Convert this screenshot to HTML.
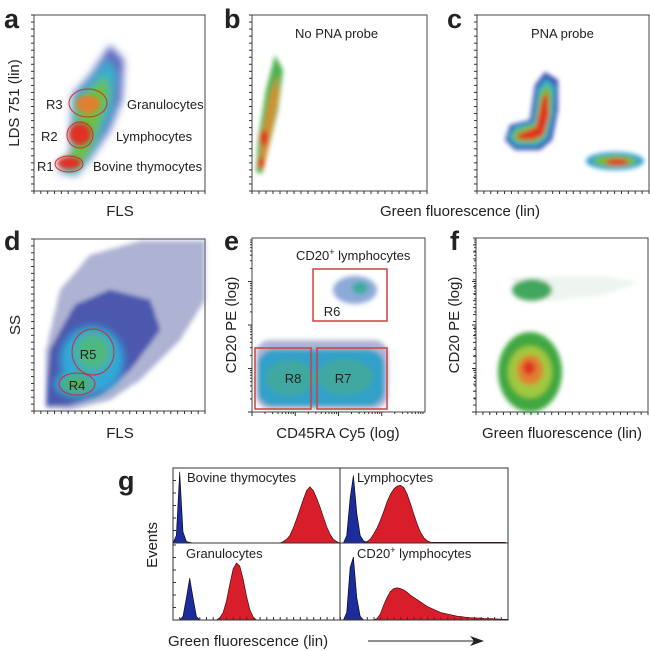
<!DOCTYPE html>
<html><head><meta charset="utf-8"><style>
body{margin:0;background:#fff}
svg{display:block}
text{font-family:"Liberation Sans",sans-serif;fill:#222}
</style></head><body>
<svg id="fig" width="650" height="651" viewBox="0 0 650 651">
<defs>
<filter id="b2" x="-50%" y="-50%" width="200%" height="200%"><feGaussianBlur stdDeviation="2.5"/></filter>
<filter id="b4" x="-50%" y="-50%" width="200%" height="200%"><feGaussianBlur stdDeviation="4"/></filter>
<pattern id="spk" width="4" height="4" patternUnits="userSpaceOnUse"><rect width="4" height="4" fill="#3848a0"/><rect x="1" y="2" width="1" height="1" fill="#fff"/><rect x="3" y="0" width="1" height="1" fill="#c0c4e8"/><rect x="0" y="0" width="1" height="1" fill="#fff"/></pattern>
<pattern id="spk2" width="3" height="3" patternUnits="userSpaceOnUse"><rect width="3" height="3" fill="#fff"/><rect x="1" y="1" width="1" height="1" fill="#50b060"/><rect x="0" y="2" width="1" height="1" fill="#30a050"/></pattern>
</defs>

<!-- Panel a -->
<g>
<text x="4" y="28" font-size="27" font-weight="bold">a</text>
<rect x="34" y="15" width="171" height="176" fill="none" stroke="#444"/>
<g filter="url(#b4)">
<path d="M58,172 L70,150 L72,95 L90,75 L110,45 L124,60 L122,100 L110,130 L90,160 L76,176 Z" fill="#3848b0" opacity="0.8"/>
<path d="M62,170 L74,145 L74,100 L90,82 L108,60 L116,75 L112,110 L98,140 L84,165 L72,174 Z" fill="#33b0d0"/>
<path d="M64,168 L77,140 L76,102 L92,88 L106,75 L110,95 L100,125 L88,155 L76,170 Z" fill="#6cc040"/>
</g>
<g filter="url(#b2)">
<ellipse cx="69" cy="163" rx="12" ry="6" fill="#e03020"/>
<ellipse cx="80" cy="134" rx="11" ry="11" fill="#e03020"/>
<ellipse cx="88" cy="104" rx="12" ry="9" fill="#e08030"/>
</g>
<ellipse cx="69" cy="164" rx="14" ry="8" fill="none" stroke="#c83030"/>
<ellipse cx="80" cy="135" rx="13" ry="13" fill="none" stroke="#c83030"/>
<ellipse cx="88" cy="103" rx="19" ry="14" fill="none" stroke="#c83030"/>
<text x="46" y="109" font-size="13">R3</text>
<text x="127" y="109" font-size="13">Granulocytes</text>
<text x="41" y="141" font-size="13">R2</text>
<text x="116" y="141" font-size="13">Lymphocytes</text>
<text x="37" y="171" font-size="13">R1</text>
<text x="93" y="171" font-size="13">Bovine thymocytes</text>
<text x="120" y="216" font-size="15" text-anchor="middle">FLS</text>
<text transform="translate(19,103) rotate(-90)" font-size="15" text-anchor="middle">LDS 751 (lin)</text>
</g>

<!-- Panel b -->
<g>
<text x="224" y="28" font-size="27" font-weight="bold">b</text>
<rect x="252" y="15" width="175" height="176" fill="none" stroke="#444"/>
<g filter="url(#b2)">
<path d="M256,172 L258,140 L266,90 L275,55 L283,70 L278,110 L268,150 L262,174 Z" fill="#50b050"/>
<path d="M259,168 L262,135 L270,95 L277,75 L279,95 L272,130 L264,168 Z" fill="#d09030"/>
<ellipse cx="264" cy="138" rx="4" ry="8" fill="#e03020"/>
<ellipse cx="261" cy="163" rx="3" ry="6" fill="#e03020"/>
</g>
<text x="295" y="38" font-size="13">No PNA probe</text>
<text x="460" y="216" font-size="15" text-anchor="middle">Green fluorescence (lin)</text>
</g>

<!-- Panel c -->
<g>
<text x="447" y="28" font-size="27" font-weight="bold">c</text>
<rect x="477" y="15" width="172" height="176" fill="none" stroke="#444"/>
<g filter="url(#b2)">
<path d="M505,140 L510,125 L530,120 L535,85 L545,72 L558,80 L558,110 L552,140 L540,150 L515,150 Z" fill="#3848b0"/>
<path d="M508,138 L514,127 L533,122 L538,88 L546,78 L555,86 L554,112 L548,138 L538,146 L516,146 Z" fill="#33b0d0"/>
<path d="M511,136 L517,129 L535,124 L540,92 L547,84 L552,92 L551,114 L545,136 L536,143 L518,143 Z" fill="#6cc040"/>
<path d="M516,135 L536,127 L542,98 L548,92 L549,116 L543,136 L532,140 L520,140 Z" fill="#e03020"/>
<ellipse cx="615" cy="161" rx="29" ry="9" fill="#33a0d0"/>
<ellipse cx="615" cy="161" rx="22" ry="6" fill="#6cc040"/>
<ellipse cx="617" cy="162" rx="12" ry="3.5" fill="#e03020"/>
</g>
<text x="531" y="38" font-size="13">PNA probe</text>
</g>

<!-- Panel d -->
<g>
<text x="4" y="250" font-size="27" font-weight="bold">d</text>
<rect x="34" y="239" width="171" height="172" fill="none" stroke="#444"/>
<g filter="url(#b2)">
<path d="M46,408 L46,350 L60,290 L90,255 L140,241 L205,241 L205,300 L180,340 L140,380 L110,400 L70,410 Z" fill="url(#spk)" opacity="0.6"/>
<path d="M46,406 L50,350 L75,305 L110,290 L150,300 L160,330 L130,370 L100,395 L70,405 Z" fill="#2838a0" opacity="0.7"/>
</g>
<g filter="url(#b4)">
<ellipse cx="92" cy="360" rx="32" ry="34" fill="#30a8d8"/>
<ellipse cx="78" cy="384" rx="24" ry="14" fill="#30a8d8"/>
<ellipse cx="93" cy="352" rx="18" ry="19" fill="#50b880"/>
<ellipse cx="77" cy="384" rx="16" ry="9" fill="#50b060"/>
</g>
<ellipse cx="93" cy="352" rx="21" ry="23" fill="none" stroke="#c83030"/>
<ellipse cx="77" cy="384" rx="18" ry="11" fill="none" stroke="#c83030"/>
<text x="88" y="359" font-size="13" text-anchor="middle">R5</text>
<text x="77" y="390" font-size="13" text-anchor="middle">R4</text>
<text x="120" y="438" font-size="15" text-anchor="middle">FLS</text>
<text transform="translate(20,325) rotate(-90)" font-size="15" text-anchor="middle">SS</text>
</g>

<!-- Panel e -->
<g>
<text x="224" y="250" font-size="27" font-weight="bold">e</text>
<rect x="252" y="238" width="173" height="174" fill="none" stroke="#444"/>
<g filter="url(#b2)">
<rect x="256" y="340" width="132" height="69" rx="14" fill="url(#spk)" opacity="0.6"/>
<rect x="258" y="350" width="126" height="56" rx="16" fill="#30a0c8"/>
<ellipse cx="290" cy="378" rx="24" ry="18" fill="#40a8a0"/>
<ellipse cx="345" cy="377" rx="28" ry="18" fill="#40a8a0"/>
<ellipse cx="355" cy="290" rx="22" ry="14" fill="#4070c0" opacity="0.6"/>
<ellipse cx="360" cy="288" rx="8" ry="6" fill="#40a8a0"/>
</g>
<rect x="313" y="269" width="74" height="52" fill="none" stroke="#d04040" stroke-width="1.5"/>
<rect x="255" y="348" width="56" height="61" fill="none" stroke="#d04040" stroke-width="1.5"/>
<rect x="317" y="348" width="70" height="61" fill="none" stroke="#d04040" stroke-width="1.5"/>
<text x="332" y="316" font-size="13" text-anchor="middle">R6</text>
<text x="293" y="383" font-size="13" text-anchor="middle">R8</text>
<text x="343" y="383" font-size="13" text-anchor="middle">R7</text>
<text x="296" y="260" font-size="13">CD20<tspan dy="-5" font-size="9">+</tspan><tspan dy="5"> lymphocytes</tspan></text>
<text x="338" y="438" font-size="15" text-anchor="middle">CD45RA Cy5 (log)</text>
<text transform="translate(236,325) rotate(-90)" font-size="15" text-anchor="middle">CD20 PE (log)</text>
</g>

<!-- Panel f -->
<g>
<text x="450" y="250" font-size="27" font-weight="bold">f</text>
<rect x="476" y="238" width="172" height="174" fill="none" stroke="#444"/>
<g filter="url(#b2)">
<path d="M510,278 L600,276 L640,282 L600,296 L530,302 Z" fill="url(#spk2)" opacity="0.7"/>
<ellipse cx="532" cy="290" rx="20" ry="11" fill="#30a050" opacity="0.9"/>
<ellipse cx="530" cy="372" rx="32" ry="40" fill="#40a840"/>
<ellipse cx="530" cy="372" rx="22" ry="26" fill="#a0c840"/>
<ellipse cx="530" cy="370" rx="13" ry="15" fill="#e08030"/>
<ellipse cx="529" cy="368" rx="6" ry="7" fill="#e03020"/>
</g>
<text x="562" y="438" font-size="15" text-anchor="middle">Green fluorescence (lin)</text>
<text transform="translate(459,325) rotate(-90)" font-size="15" text-anchor="middle">CD20 PE (log)</text>
</g>

<!-- Panel g -->
<g>
<text x="118" y="490" font-size="27" font-weight="bold">g</text>
<g id="hists"></g>
<rect x="173" y="468" width="335" height="152" fill="none" stroke="#333"/>
<line x1="173" y1="543" x2="508" y2="543" stroke="#333"/>
<line x1="340" y1="468" x2="340" y2="620" stroke="#333"/>
<text x="187" y="482" font-size="13">Bovine thymocytes</text>
<text x="357" y="482" font-size="13">Lymphocytes</text>
<text x="186" y="558" font-size="13">Granulocytes</text>
<text x="357" y="558" font-size="13">CD20<tspan dy="-5" font-size="9">+</tspan><tspan dy="5"> lymphocytes</tspan></text>
<text transform="translate(157,545) rotate(-90)" font-size="15" text-anchor="middle">Events</text>
<text x="168" y="646" font-size="15">Green fluorescence (lin)</text>
<line x1="368" y1="641" x2="480" y2="641" stroke="#222" stroke-width="1"/>
<path d="M484,641 L470,636 L474,641 L470,646 Z" fill="#222"/>
</g>
<g id="ticks"></g>
</svg>
<script>
// Histogram data: x in channels 0..100 (step 2) of each sub-panel, counts as % of sub-panel height
const binsX = [0,2,4,6,8,10,12,14,16,18,20,22,24,26,28,30,32,34,36,38,40,42,44,46,48,50,52,54,56,58,60,62,64,66,68,70,72,74,76,78,80,82,84,86,88,90,92,94,96,98,100];
const bovineBlue  = [0,10,95,15,2,1,0,0,0,0,0,0,0,0,0,0,0,0,0,0,0,0,0,0,0,0,0,0,0,0,0,0,0,0,0,0,0,0,0,0,0,0,0,0,0,0,0,0,0,0,0];
const bovineRed   = [0,0,0,0,0,0,0,0,0,0,0,0,0,0,0,0,0,0,0,0,0,0,0,0,0,0,0,0,0,0,0,0,0,2,5,10,20,32,45,58,70,75,70,60,48,35,22,12,5,2,0];
const lymphBlue   = [0,0,10,60,90,40,10,3,1,0,0,0,0,0,0,0,0,0,0,0,0,0,0,0,0,0,0,0,0,0,0,0,0,0,0,0,0,0,0,0,0,0,0,0,0,0,0,0,0,0,0];
const lymphRed    = [0,0,0,0,0,0,0,0,2,5,12,20,30,42,55,65,72,76,77,74,65,52,38,25,14,7,3,1,1,1,1,1,1,1,1,1,1,1,1,1,1,1,1,1,1,1,1,1,1,1,0];
const granBlue    = [0,0,0,5,30,56,30,5,0,0,0,0,0,0,0,0,0,0,0,0,0,0,0,0,0,0,0,0,0,0,0,0,0,0,0,0,0,0,0,0,0,0,0,0,0,0,0,0,0,0,0];
const granRed     = [0,0,0,0,0,0,0,0,0,0,0,0,0,0,3,10,25,48,68,76,72,55,32,14,4,0,0,0,0,0,0,0,0,0,0,0,0,0,0,0,0,0,0,0,0,0,0,0,0,0,0];
const cd20Blue    = [0,0,10,70,84,30,5,0,0,0,0,0,0,0,0,0,0,0,0,0,0,0,0,0,0,0,0,0,0,0,0,0,0,0,0,0,0,0,0,0,0,0,0,0,0,0,0,0,0,0,0];
const cd20Red     = [0,0,0,0,0,0,0,0,0,0,0,2,8,20,30,38,42,43,42,40,37,33,30,27,24,21,18,16,14,12,10,9,8,7,6,5,4.5,4,3.5,3,3,2.5,2.5,2,2,2,1.5,1.5,1,1,1];
const histPanels = [
 {name:'bovine', x0:173, x1:340, yb:543, yt:468, blue:bovineBlue, red:bovineRed},
 {name:'lymphocytes', x0:340, x1:508, yb:543, yt:468, blue:lymphBlue, red:lymphRed},
 {name:'granulocytes', x0:173, x1:340, yb:620, yt:545, blue:granBlue, red:granRed},
 {name:'cd20', x0:340, x1:508, yb:620, yt:545, blue:cd20Blue, red:cd20Red}
];
const NS='http://www.w3.org/2000/svg';
const hg=document.getElementById('hists');
function areaPath(p, vals){
  const sx=v=>p.x0+(p.x1-p.x0)*v/100;
  const sy=v=>p.yb-(p.yb-p.yt)*v/100;
  let d='M'+sx(binsX[0])+','+p.yb;
  for(let i=0;i<binsX.length;i++){d+=' L'+sx(binsX[i]).toFixed(1)+','+sy(vals[i]).toFixed(1);}
  d+=' L'+sx(binsX[binsX.length-1])+','+p.yb+' Z';
  return d;
}
histPanels.forEach(p=>{
  const r=document.createElementNS(NS,'path');
  r.setAttribute('d',areaPath(p,p.red));r.setAttribute('fill','#d81e2a');r.setAttribute('stroke','#300');r.setAttribute('stroke-width','0.6');
  
  
  hg.appendChild(r);
  const b=document.createElementNS(NS,'path');
  b.setAttribute('d',areaPath(p,p.blue));b.setAttribute('fill','#1c2c9a');b.setAttribute('stroke','#001');b.setAttribute('stroke-width','0.6');
  
  
  hg.appendChild(b);
});
// ticks
const tg=document.getElementById('ticks');
function tick(x1,y1,x2,y2){const l=document.createElementNS(NS,'line');l.setAttribute('x1',x1);l.setAttribute('y1',y1);l.setAttribute('x2',x2);l.setAttribute('y2',y2);l.setAttribute('stroke','#333');


tg.appendChild(l);}
const frames=[[34,15,205,191],[252,15,427,191],[477,15,649,191],[34,239,205,411],[476,238,648,412]];
frames.forEach(f=>{
  for(let i=0;i<=25;i++){const y=f[3]-(f[3]-f[1])*i/25;tick(f[0]-3,y,f[0],y);}
  for(let i=0;i<=25;i++){const x=f[0]+(f[2]-f[0])*i/25;tick(x,f[3],x,f[3]+3);}
});
for(let i=0;i<=50;i++){const x=173+335*i/50;tick(x,620,x,617);}
for(let i=0;i<=6;i++){tick(173,620-i*12.5,176,620-i*12.5);tick(173,543-i*12.5,176,543-i*12.5);}
const dec=[0,Math.log10(2),Math.log10(3),Math.log10(4),Math.log10(5),Math.log10(6),Math.log10(7),Math.log10(8),Math.log10(9)];
for(let k=0;k<4;k++){dec.forEach((d,j)=>{const len=j==0?4:2;
  const x=252+173*(k+d)/4; if(x<=425) tick(x,412,x,412+len);
  const y=412-174*(k+d)/4; if(y>=238) tick(252-len,y,252,y);
  if(y>=238) tick(476-len,y,476,y);
});}
</script>
</body></html>
